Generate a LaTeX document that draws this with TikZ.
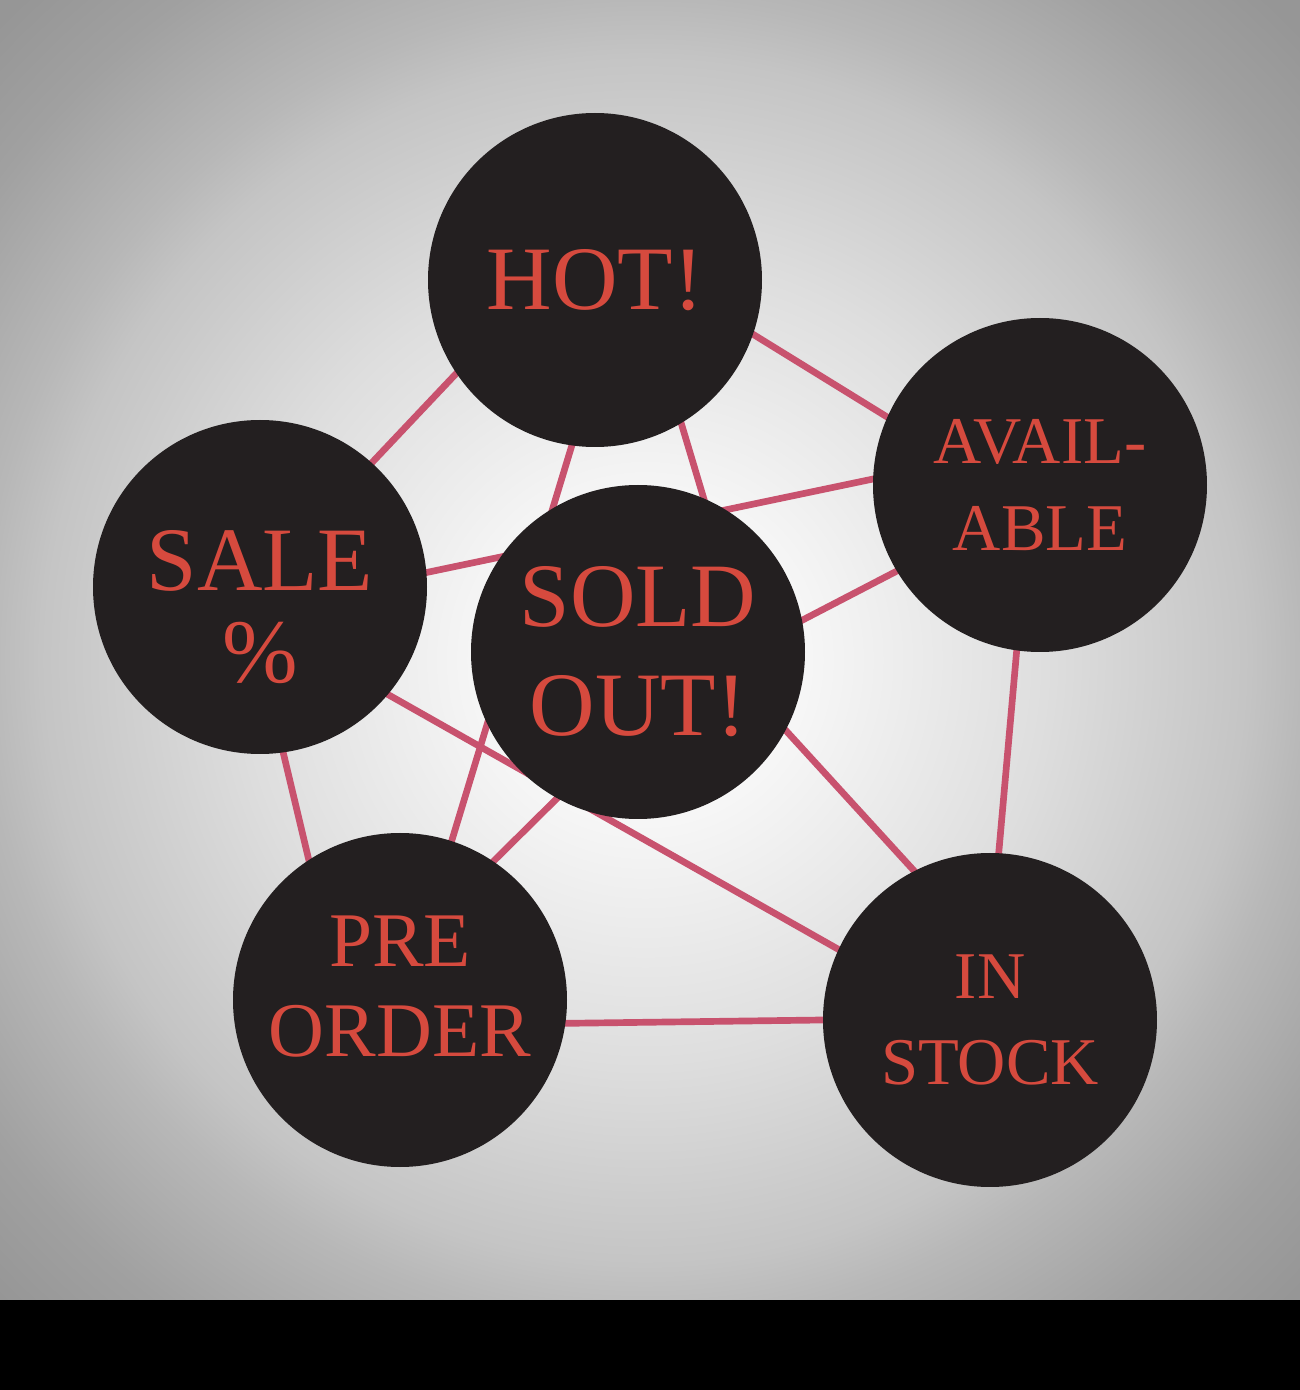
\documentclass[tikz,border=0pt]{standalone}
\usepackage{fontspec}
\setmainfont{Liberation Serif}
\usepackage{xcolor}
\usepackage{tikz}

\definecolor{tagfill}{RGB}{35,31,32}
\definecolor{tagtext}{RGB}{214,74,62}
\definecolor{linkpink}{RGB}{200,82,110}

\pgfdeclarelayer{backdrop}
\pgfdeclarelayer{links}
\pgfsetlayers{backdrop,links,main}

\pgfdeclareradialshading{bgshade}{\pgfpoint{0bp}{0bp}}{%
  color(0bp)=(white); color(20bp)=(white); color(57bp)=(black!5);
  color(114bp)=(black!13); color(171bp)=(black!23); color(188bp)=(black!28);
  color(228bp)=(black!37); color(256bp)=(black!41); color(285bp)=(black!42)}

\begin{document}
\begin{tikzpicture}
        % Define styles
        \tikzset{
            tag/.style={circle, fill=tagfill, minimum size=3.34cm, inner sep=0pt, text=tagtext, align=center},
            bigtext/.style={font=\fontsize{25.8}{31}\selectfont},
            midtext/.style={font=\fontsize{22}{25.6}\selectfont},
            smalltext/.style={font=\fontsize{19}{24.7}\selectfont},
            link/.style={draw=linkpink, line width=1.9pt, shorten <=-3pt, shorten >=-3pt}
        }
        \useasboundingbox (0,0) rectangle (13,13.9);

        % Background
        \begin{pgfonlayer}{backdrop}
        \begin{scope}
            \clip (0,0.9) rectangle (13,13.9);
            \pgftext[at=\pgfpoint{6.45cm}{7.3cm}]{\pgfuseshading{bgshade}}
        \end{scope}
        \fill[black] (0,0) rectangle (13,0.9);
        \end{pgfonlayer}

        % Nodes
        \node[tag, bigtext] (tag_hot) at (5.95,11.10) {HOT!};
        \node[tag, smalltext] (tag_avail) at (10.40,9.05) {AVAIL-\\ABLE};
        \node[tag, font=\fontsize{25.8}{26}\selectfont] (tag_sale) at (2.60,8.03) {\rule{0pt}{1.0cm}SALE\\\%};
        \node[tag, bigtext] (tag_sold) at (6.38,7.38) {SOLD\\OUT!};
        \node[tag, midtext] (tag_pre) at (4.00,3.90) {PRE\\ORDER\rule[-0.28cm]{0pt}{0pt}};
        \node[tag, smalltext] (tag_stock) at (9.90,3.70) {IN\\STOCK};

        % Links
        \begin{pgfonlayer}{links}
        \draw[link] (tag_hot.214) -- (tag_sale.48);
        \draw[link] (tag_hot.-19) -- (tag_avail.156);
        \draw[link] (tag_hot.-59) -- (tag_sold.67);
        \draw[link] (tag_hot.262) -- (tag_pre.72);
        \draw[link] (tag_sale.5) -- (tag_avail.178);
        \draw[link] (tag_sale.-40) -- (tag_stock.155);
        \draw[link] (tag_sale.-82) -- (tag_pre.123);
        \draw[link] (tag_sold.11) -- (tag_avail.211);
        \draw[link] (tag_sold.241) -- (tag_pre.56);
        \draw[link] (tag_sold.-28) -- (tag_stock.117);
        \draw[link] (tag_pre.-8) -- (tag_stock.180);
        \draw[link] (tag_avail.-98) -- (tag_stock.87);
        \end{pgfonlayer}
    \end{tikzpicture}
\end{document}
